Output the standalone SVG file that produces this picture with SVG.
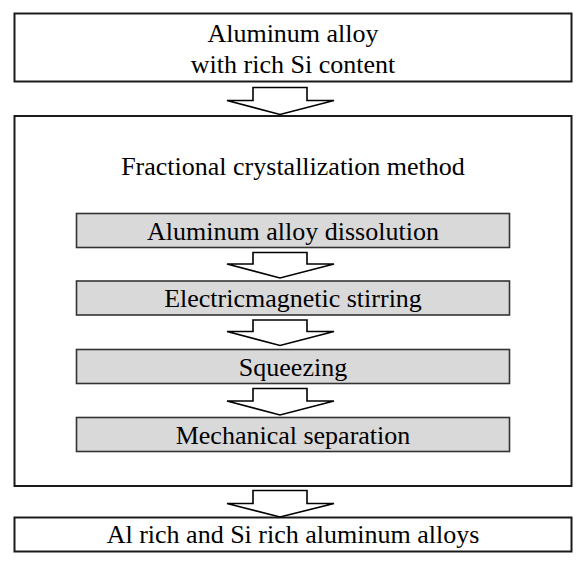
<svg xmlns="http://www.w3.org/2000/svg" width="585" height="562" viewBox="0 0 585 562">
<defs>
<style>
.outer{fill:#ffffff;stroke:#1a1a1a;stroke-width:2}
.step{fill:#d9d9d9;stroke:#333333;stroke-width:1.6}
.arrow{fill:#ffffff;stroke:#000000;stroke-width:1.6;stroke-linejoin:miter}
text{font-family:"Liberation Serif","Times New Roman",serif;font-size:26px;fill:#000000;text-anchor:middle}
</style>
</defs>
<rect width="585" height="562" fill="#ffffff"/>
<g id="input">
<rect class="outer" x="14.5" y="13.5" width="557" height="68"/>
<text x="293" y="41.5">Aluminum alloy</text>
<text x="293" y="72.5">with rich Si content</text>
</g>
<g id="method">
<rect class="outer" x="14.5" y="116" width="557" height="370"/>
<text x="293" y="174.5">Fractional crystallization method</text>
</g>
<g id="dissolution">
<rect class="step" x="76.5" y="213.5" width="433" height="34"/>
<text x="293" y="239.5">Aluminum alloy dissolution</text>
</g>
<g id="stirring">
<rect class="step" x="76.5" y="281" width="433" height="34"/>
<text x="293" y="307">Electricmagnetic stirring</text>
</g>
<g id="squeezing">
<rect class="step" x="76.5" y="349.5" width="433" height="34"/>
<text x="293" y="375.5">Squeezing</text>
</g>
<g id="separation">
<rect class="step" x="76.5" y="417.5" width="433" height="34"/>
<text x="293" y="443.5">Mechanical separation</text>
</g>
<g id="output">
<rect class="outer" x="14.5" y="517.5" width="557" height="34"/>
<text x="293" y="542.5">Al rich and Si rich aluminum alloys</text>
</g>
<g id="connectors">
<path class="arrow" d="M253,87.5 V100.5 H227 L280,114.5 L334,100.5 H307 V87.5 Z"/>
<path class="arrow" d="M253,252.5 V264 H227 L280,278 L334,264 H307 V252.5 Z"/>
<path class="arrow" d="M253,320 V331.5 H227 L280,345.5 L334,331.5 H307 V320 Z"/>
<path class="arrow" d="M253,388.5 V401 H227 L280,415 L334,401 H307 V388.5 Z"/>
<path class="arrow" d="M253,490.5 V503.5 H227 L280,517 L334,503.5 H307 V490.5 Z"/>
</g>
</svg>
